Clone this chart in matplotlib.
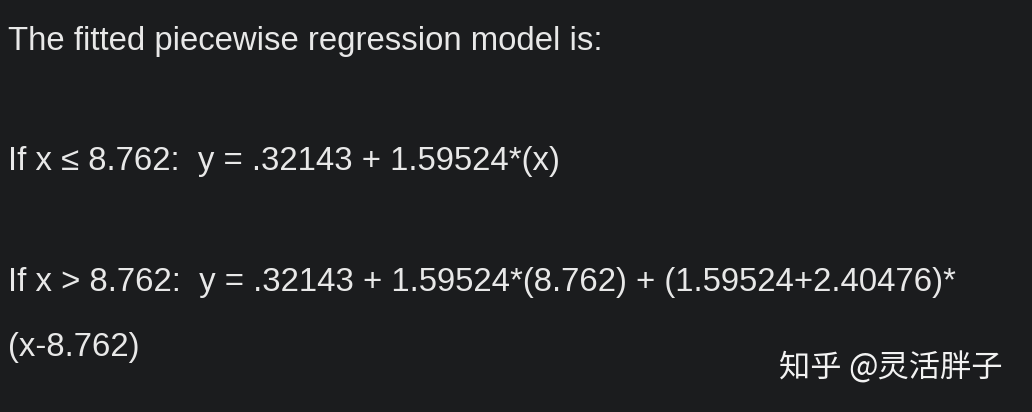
import matplotlib
matplotlib.use("Agg")
import matplotlib.pyplot as plt

lines = [
    "The fitted piecewise regression model is:",
    "If x \u2264 8.762:  y = .32143 + 1.59524*(x)",
    "If x > 8.762:  y = .32143 + 1.59524*(8.762) + (1.59524+2.40476)*",
    "(x-8.762)",
]
baselines = [50, 170, 291, 356]
watermark_site = "知乎"
watermark_user = "@灵活胖子"

W, H = 1032, 412
fig = plt.figure(figsize=(W / 100, H / 100), dpi=100)
fig.patch.set_facecolor("#1b1c1e")

for txt, yb in zip(lines, baselines):
    fig.text(8 / W, 1 - yb / H, txt, color="#e8e8e8", fontsize=23.7,
             family=["Liberation Sans", "DejaVu Sans"], va="baseline", ha="left")

fig.text(779 / W, 1 - 368 / H, watermark_site, color="#f2f2f2", fontsize=22.5,
         family=["Noto Sans CJK SC", "DejaVu Sans"], va="center", ha="left")
fig.text(1003 / W, 1 - 368 / H, watermark_user, color="#f2f2f2", fontsize=22.5,
         family=["Noto Sans CJK SC", "DejaVu Sans"], va="center", ha="right")

fig.savefig("out.png", dpi=100, facecolor=fig.get_facecolor())
